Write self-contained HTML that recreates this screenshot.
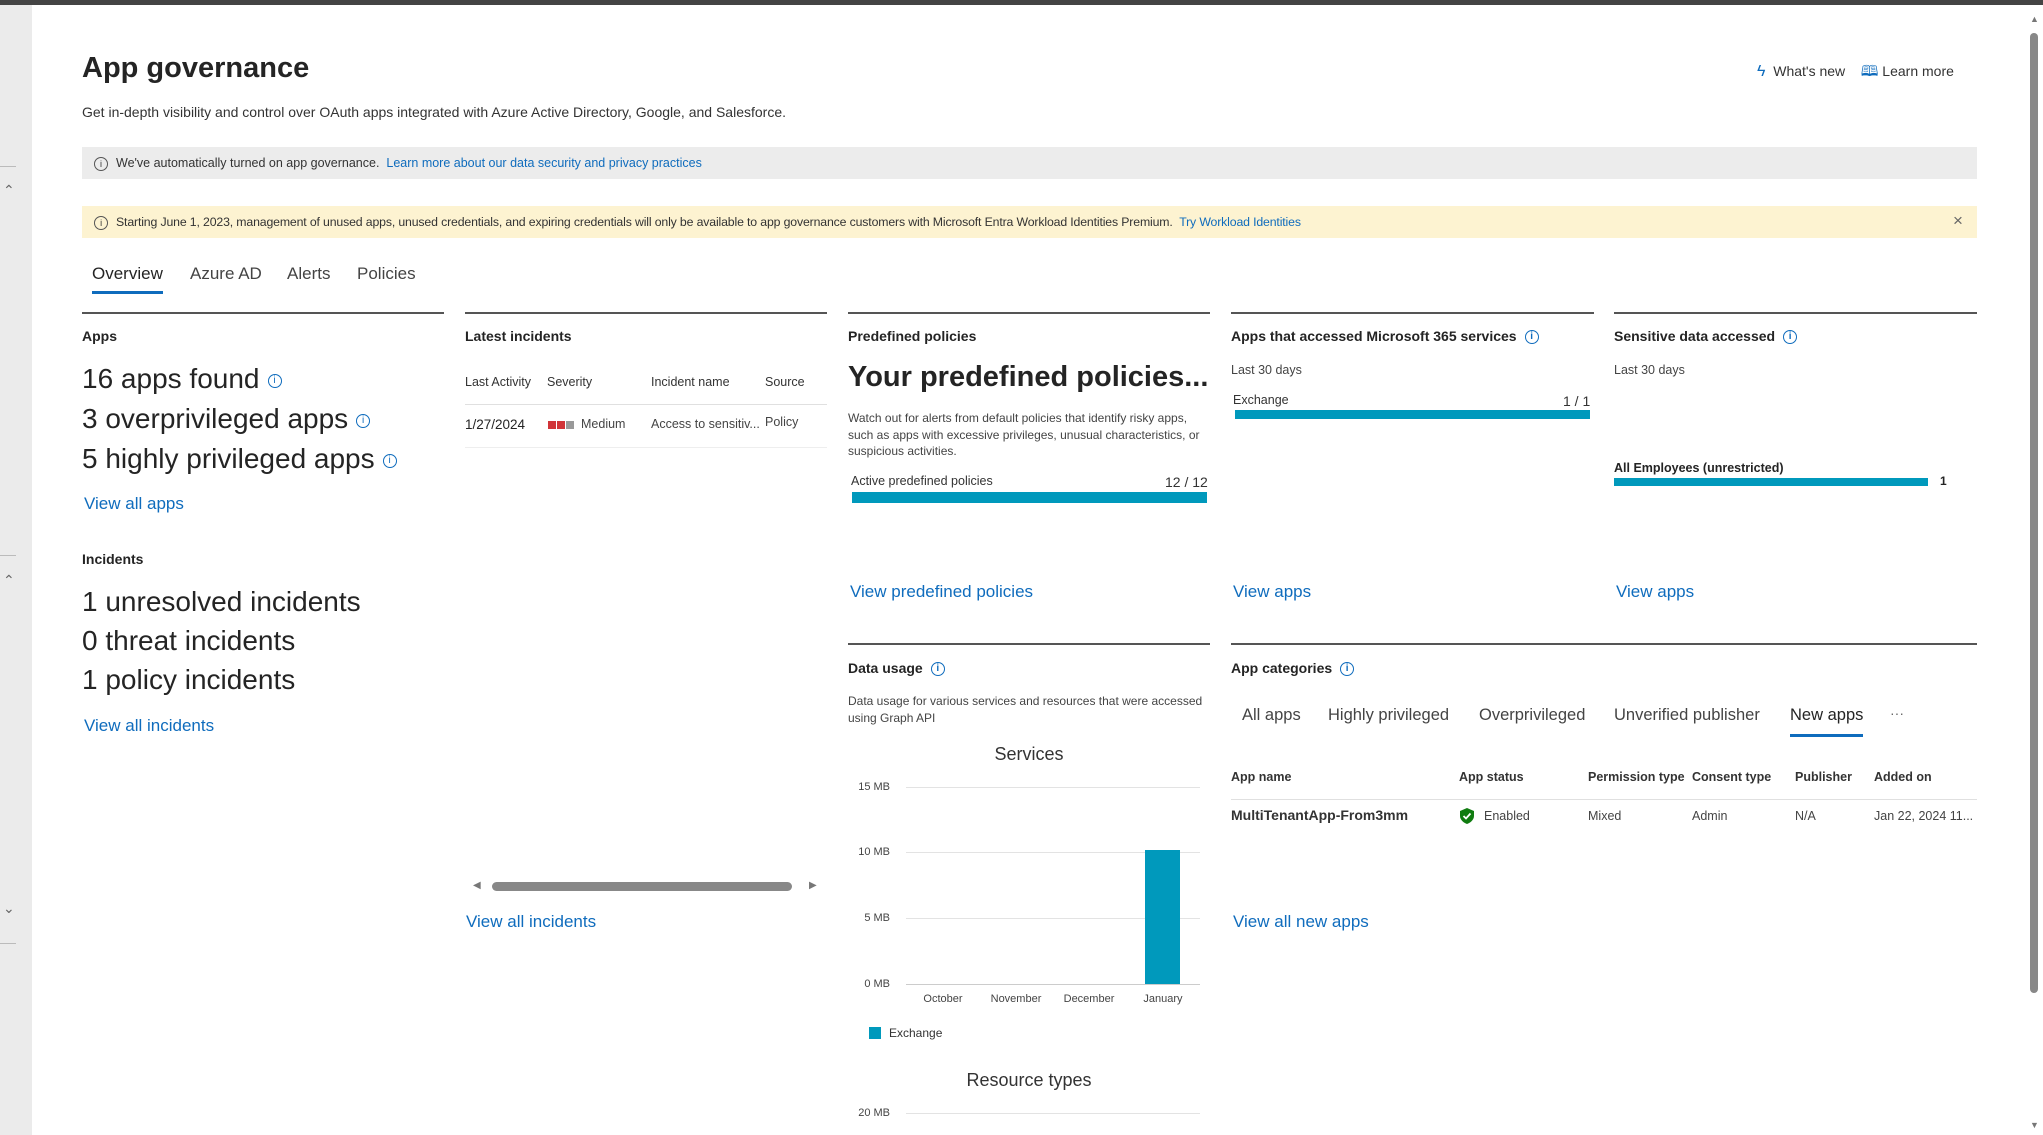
<!DOCTYPE html>
<html><head><meta charset="utf-8"><style>
*{margin:0;padding:0;box-sizing:border-box}
body{width:2043px;height:1135px;overflow:hidden;background:#fff;font-family:"Liberation Sans",sans-serif;color:#242424;position:relative}
.a{position:absolute;white-space:nowrap}
.l{color:#0f6cbd}
.hd{font-size:14px;font-weight:bold;color:#242424}
.big{font-size:28px;color:#242424}
.ln{position:absolute;height:2px;background:#555}
.sm{font-size:12.5px}
.info{display:inline-block;width:14px;height:14px;border:1.3px solid #0f6cbd;border-radius:50%;color:#0f6cbd;font-size:10px;text-align:center;line-height:12px;vertical-align:middle;margin-left:8px}
.bar{position:absolute;background:#0099bc}
.th{font-size:12.5px;font-weight:bold;color:#333}
</style></head><body>
<div class="a" style="left:0;top:0;width:2043px;height:5px;background:#444"></div>
<div class="a" style="left:0;top:5px;width:32px;height:1130px;background:#ebebeb"></div>
<div class="a" style="left:0;top:166px;width:16px;height:1px;background:#bbb"></div>
<div class="a" style="left:3px;top:182px;font-size:14px;color:#666">&#8963;</div>
<div class="a" style="left:0;top:555px;width:16px;height:1px;background:#bbb"></div>
<div class="a" style="left:3px;top:572px;font-size:14px;color:#666">&#8963;</div>
<div class="a" style="left:3px;top:900px;font-size:14px;color:#666">&#8964;</div>
<div class="a" style="left:0;top:943px;width:16px;height:1px;background:#bbb"></div>
<!-- right scrollbar -->
<div class="a" style="left:2026px;top:5px;width:17px;height:1130px;background:#fff"></div>
<div class="a" style="left:2030px;top:14px;font-size:9px;color:#777">&#9650;</div>
<div class="a" style="left:2030px;top:33px;width:8px;height:960px;background:#888;border-radius:4px"></div>
<div class="a" style="left:2030px;top:1120px;font-size:9px;color:#777">&#9660;</div>

<div class="a" style="left:82px;top:52px;font-size:29px;font-weight:bold">App governance</div>
<div class="a" style="left:82px;top:104px;font-size:14px;color:#333">Get in-depth visibility and control over OAuth apps integrated with Azure Active Directory, Google, and Salesforce.</div>
<div class="a" style="left:1757px;top:61px;font-size:14px;color:#333"><span class="l" style="font-size:16px">&#991;</span>&nbsp; What's new &nbsp;&nbsp;&nbsp;<span class="l" style="font-size:15px">&#128366;</span> Learn more</div>

<div class="a" style="left:82px;top:147px;width:1895px;height:32px;background:#ececec"></div>
<div class="a sm" style="left:94px;top:156px;color:#333"><span style="display:inline-block;width:14px;height:14px;border:1px solid #555;border-radius:50%;font-size:9px;text-align:center;line-height:12px;margin-right:8px;vertical-align:middle">i</span>We've automatically turned on app governance. &nbsp;<span class="l">Learn more about our data security and privacy practices</span></div>

<div class="a" style="left:82px;top:206px;width:1895px;height:32px;background:#fdf3d1"></div>
<div class="a" style="left:94px;top:215px;font-size:12.3px;color:#333;letter-spacing:-0.15px"><span style="display:inline-block;width:14px;height:14px;border:1px solid #555;border-radius:50%;font-size:9px;text-align:center;line-height:12px;margin-right:8px;vertical-align:middle">i</span>Starting June 1, 2023, management of unused apps, unused credentials, and expiring credentials will only be available to app governance customers with Microsoft Entra Workload Identities Premium. &nbsp;<span class="l">Try Workload Identities</span></div>
<div class="a" style="left:1953px;top:211px;font-size:17px;color:#666">&#215;</div>

<div class="a" style="left:92px;top:264px;font-size:17px;color:#242424">Overview</div>
<div class="a" style="left:190px;top:264px;font-size:17px;color:#444">Azure AD</div>
<div class="a" style="left:287px;top:264px;font-size:17px;color:#444">Alerts</div>
<div class="a" style="left:357px;top:264px;font-size:17px;color:#444">Policies</div>
<div class="a" style="left:92px;top:291px;width:71px;height:3px;background:#0f6cbd"></div>

<div class="ln" style="left:82px;top:312px;width:362px"></div>
<div class="ln" style="left:465px;top:312px;width:362px"></div>
<div class="ln" style="left:848px;top:312px;width:362px"></div>
<div class="ln" style="left:1231px;top:312px;width:363px"></div>
<div class="ln" style="left:1614px;top:312px;width:363px"></div>

<!-- Apps -->
<div class="a hd" style="left:82px;top:328px">Apps</div>
<div class="a big" style="left:82px;top:363px">16 apps found<span class="info">i</span></div>
<div class="a big" style="left:82px;top:403px">3 overprivileged apps<span class="info">i</span></div>
<div class="a big" style="left:82px;top:443px">5 highly privileged apps<span class="info">i</span></div>
<div class="a l" style="left:84px;top:494px;font-size:17px">View all apps</div>
<div class="a hd" style="left:82px;top:551px">Incidents</div>
<div class="a big" style="left:82px;top:586px">1 unresolved incidents</div>
<div class="a big" style="left:82px;top:625px">0 threat incidents</div>
<div class="a big" style="left:82px;top:664px">1 policy incidents</div>
<div class="a l" style="left:84px;top:716px;font-size:17px">View all incidents</div>

<!-- Latest incidents -->
<div class="a hd" style="left:465px;top:328px">Latest incidents</div>
<div class="a" style="left:465px;top:375px;font-size:12.5px;color:#333">Last Activity</div>
<div class="a" style="left:547px;top:375px;font-size:12.5px;color:#333">Severity</div>
<div class="a" style="left:651px;top:375px;font-size:12.5px;color:#333">Incident name</div>
<div class="a" style="left:765px;top:375px;font-size:12.5px;color:#333">Source</div>
<div class="a" style="left:465px;top:404px;width:362px;height:1px;background:#e0e0e0"></div>
<div class="a" style="left:465px;top:417px;font-size:13.5px">1/27/2024</div>
<div class="a" style="left:548px;top:421px;width:8px;height:8px;background:#d13438"></div>
<div class="a" style="left:557px;top:421px;width:8px;height:8px;background:#d13438"></div>
<div class="a" style="left:566px;top:421px;width:8px;height:8px;background:#999"></div>
<div class="a" style="left:581px;top:417px;font-size:12.5px;color:#444">Medium</div>
<div class="a" style="left:651px;top:417px;font-size:12.5px;color:#444">Access to sensitiv...</div>
<div class="a" style="left:765px;top:415px;font-size:12.5px;color:#444">Policy</div>
<div class="a" style="left:465px;top:447px;width:362px;height:1px;background:#eee"></div>
<div class="a" style="left:473px;top:880px;font-size:10px;color:#777">&#9664;</div>
<div class="a" style="left:492px;top:882px;width:300px;height:9px;background:#888;border-radius:5px"></div>
<div class="a" style="left:809px;top:880px;font-size:10px;color:#777">&#9654;</div>
<div class="a l" style="left:466px;top:912px;font-size:17px">View all incidents</div>

<!-- Predefined -->
<div class="a hd" style="left:848px;top:328px">Predefined policies</div>
<div class="a" style="left:848px;top:361px;font-size:29px;font-weight:bold">Your predefined policies...</div>
<div class="a" style="left:848px;top:410px;font-size:12px;color:#444;line-height:16.5px;white-space:normal;width:362px">Watch out for alerts from default policies that identify risky apps, such as apps with excessive privileges, unusual characteristics, or suspicious activities.</div>
<div class="a" style="left:851px;top:474px;font-size:12.5px;color:#333">Active predefined policies</div>
<div class="a" style="left:1165px;top:474px;font-size:14px;color:#333">12 / 12</div>
<div class="bar" style="left:852px;top:492px;width:355px;height:11px"></div>
<div class="a l" style="left:850px;top:582px;font-size:17px">View predefined policies</div>

<!-- Apps 365 -->
<div class="a hd" style="left:1231px;top:328px">Apps that accessed Microsoft 365 services<span class="info">i</span></div>
<div class="a" style="left:1231px;top:363px;font-size:12.5px;color:#444">Last 30 days</div>
<div class="a" style="left:1233px;top:393px;font-size:12.5px;color:#333">Exchange</div>
<div class="a" style="left:1563px;top:393px;font-size:14px;color:#333">1 / 1</div>
<div class="bar" style="left:1235px;top:410px;width:355px;height:9px"></div>
<div class="a l" style="left:1233px;top:582px;font-size:17px">View apps</div>

<!-- Sensitive -->
<div class="a hd" style="left:1614px;top:328px">Sensitive data accessed<span class="info">i</span></div>
<div class="a" style="left:1614px;top:363px;font-size:12.5px;color:#444">Last 30 days</div>
<div class="a" style="left:1614px;top:461px;font-size:12.5px;font-weight:bold">All Employees (unrestricted)</div>
<div class="bar" style="left:1614px;top:478px;width:314px;height:8px"></div>
<div class="a" style="left:1940px;top:474px;font-size:12px;font-weight:bold">1</div>
<div class="a l" style="left:1616px;top:582px;font-size:17px">View apps</div>

<!-- Row 2 -->
<div class="ln" style="left:848px;top:643px;width:362px"></div>
<div class="ln" style="left:1231px;top:643px;width:746px"></div>

<div class="a hd" style="left:848px;top:660px">Data usage<span class="info">i</span></div>
<div class="a" style="left:848px;top:693px;font-size:12px;color:#444;line-height:16.5px;white-space:normal;width:362px">Data usage for various services and resources that were accessed using Graph API</div>
<div class="a" style="left:848px;top:744px;width:362px;text-align:center;font-size:18px;color:#333">Services</div>
<div class="a" style="left:850px;top:781px;width:40px;text-align:right;font-size:11px;color:#444">15 MB</div>
<div class="a" style="left:850px;top:846px;width:40px;text-align:right;font-size:11px;color:#444">10 MB</div>
<div class="a" style="left:850px;top:912px;width:40px;text-align:right;font-size:11px;color:#444">5 MB</div>
<div class="a" style="left:850px;top:978px;width:40px;text-align:right;font-size:11px;color:#444">0 MB</div>
<div class="a" style="left:906px;top:787px;width:294px;height:1px;background:#e3e3e3"></div>
<div class="a" style="left:906px;top:852px;width:294px;height:1px;background:#e3e3e3"></div>
<div class="a" style="left:906px;top:918px;width:294px;height:1px;background:#e3e3e3"></div>
<div class="a" style="left:906px;top:984px;width:294px;height:1px;background:#ccc"></div>
<div class="bar" style="left:1145px;top:850px;width:35px;height:134px"></div>
<div class="a" style="left:913px;top:993px;width:60px;text-align:center;font-size:11px;color:#444">October</div>
<div class="a" style="left:986px;top:993px;width:60px;text-align:center;font-size:11px;color:#444">November</div>
<div class="a" style="left:1059px;top:993px;width:60px;text-align:center;font-size:11px;color:#444">December</div>
<div class="a" style="left:1133px;top:993px;width:60px;text-align:center;font-size:11px;color:#444">January</div>
<div class="bar" style="left:869px;top:1027px;width:12px;height:12px"></div>
<div class="a" style="left:889px;top:1026px;font-size:12px;color:#333">Exchange</div>
<div class="a" style="left:848px;top:1070px;width:362px;text-align:center;font-size:18px;color:#333">Resource types</div>
<div class="a" style="left:850px;top:1107px;width:40px;text-align:right;font-size:11px;color:#444">20 MB</div>
<div class="a" style="left:906px;top:1113px;width:294px;height:1px;background:#e3e3e3"></div>

<!-- App categories -->
<div class="a hd" style="left:1231px;top:660px">App categories<span class="info">i</span></div>
<div class="a" style="left:1242px;top:706px;font-size:16.5px;color:#444">All apps</div>
<div class="a" style="left:1328px;top:706px;font-size:16.5px;color:#444">Highly privileged</div>
<div class="a" style="left:1479px;top:706px;font-size:16.5px;color:#444">Overprivileged</div>
<div class="a" style="left:1614px;top:706px;font-size:16.5px;color:#444">Unverified publisher</div>
<div class="a" style="left:1790px;top:706px;font-size:16.5px;color:#242424">New apps</div>
<div class="a" style="left:1790px;top:734px;width:73px;height:3px;background:#0f6cbd"></div>
<div class="a" style="left:1890px;top:705px;font-size:14px;color:#666">&middot;&middot;&middot;</div>
<div class="a th" style="left:1231px;top:770px">App name</div>
<div class="a th" style="left:1459px;top:770px">App status</div>
<div class="a th" style="left:1588px;top:770px">Permission type</div>
<div class="a th" style="left:1692px;top:770px">Consent type</div>
<div class="a th" style="left:1795px;top:770px">Publisher</div>
<div class="a th" style="left:1874px;top:770px">Added on</div>
<div class="a" style="left:1231px;top:799px;width:746px;height:1px;background:#e0e0e0"></div>
<div class="a" style="left:1231px;top:807px;font-size:14px;font-weight:bold;color:#333">MultiTenantApp-From3mm</div>
<svg class="a" style="left:1460px;top:808px" width="14" height="16" viewBox="0 0 14 16"><path d="M7 0 L14 3 V8 C14 12 10 15 7 16 C4 15 0 12 0 8 V3 Z" fill="#107c10"/><path d="M3.5 8 L6 10.5 L10.5 5.5" stroke="#fff" stroke-width="1.8" fill="none"/></svg>
<div class="a" style="left:1484px;top:809px;font-size:12.5px;color:#444">Enabled</div>
<div class="a" style="left:1588px;top:809px;font-size:12.5px;color:#444">Mixed</div>
<div class="a" style="left:1692px;top:809px;font-size:12.5px;color:#444">Admin</div>
<div class="a" style="left:1795px;top:809px;font-size:12.5px;color:#444">N/A</div>
<div class="a" style="left:1874px;top:809px;font-size:12.5px;color:#444">Jan 22, 2024 11...</div>
<div class="a l" style="left:1233px;top:912px;font-size:17px">View all new apps</div>
</body></html>
